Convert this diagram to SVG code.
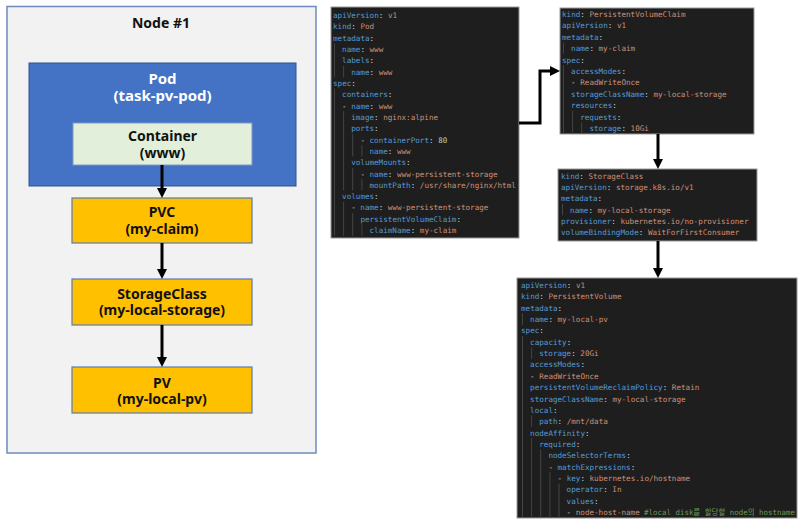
<svg xmlns="http://www.w3.org/2000/svg" width="800" height="523" viewBox="0 0 800 523">
<defs>
<marker id="ah" viewBox="0 0 10 10" refX="2" refY="5" markerWidth="10" markerHeight="10" markerUnits="userSpaceOnUse" orient="auto"><path d="M0,0 L10,5 L0,10 z" fill="#000"/></marker>
<style>
.lbl{font-family:"Noto Sans","Open Sans",sans-serif;font-weight:bold;text-anchor:middle;font-size:14px;fill:#111}
.code{font-family:"DejaVu Sans Mono","Noto Sans CJK KR",monospace;font-size:7.6px;fill:#d4d4d4}
.k{fill:#569cd6}.v{fill:#ce9178}.n{fill:#b5cea8}.c{fill:#6a9955}
.blk{fill:#1e1e1e;stroke:#9a9a9a;stroke-width:1}
.g{stroke:#444;stroke-width:1}
.y{fill:#ffc000;stroke:#5a7bb0;stroke-width:1.2}
.conn{fill:none;stroke:#000;stroke-width:3;marker-end:url(#ah)}
</style>
</defs>
<rect width="800" height="523" fill="#fff"/>

<g id="node1">
<rect x="7" y="6.5" width="309" height="446.5" fill="#f2f2f2" stroke="#6f8bbd" stroke-width="1.5"/>
<text class="lbl" x="161" y="28" font-size="16">Node #1</text>
</g>
<g id="pod">
<rect x="29" y="63" width="267" height="123" fill="#4472c4" stroke="#2f528f" stroke-width="1"/>
<text class="lbl" x="162.5" y="84" font-size="15" fill="#fff" style="fill:#fff;font-size:15px">Pod</text>
<text class="lbl" x="162.5" y="101" style="fill:#fff;font-size:15px">(task-pv-pod)</text>
</g>
<g id="container">
<rect x="73" y="123" width="179" height="42" fill="#e2efda" stroke="#7f98c6" stroke-width="1"/>
<text class="lbl" x="162.5" y="141">Container</text>
<text class="lbl" x="162.5" y="158">(www)</text>
</g>
<g id="pvc">
<rect class="y" x="72" y="198" width="180" height="45"/>
<text class="lbl" x="162" y="217">PVC</text>
<text class="lbl" x="162" y="234">(my-claim)</text>
</g>
<g id="storageclass">
<rect class="y" x="72" y="279" width="180" height="46"/>
<text class="lbl" x="162" y="299">StorageClass</text>
<text class="lbl" x="162" y="315">(my-local-storage)</text>
</g>
<g id="pv">
<rect class="y" x="72" y="367" width="180" height="46"/>
<text class="lbl" x="162" y="388">PV</text>
<text class="lbl" x="162" y="404">(my-local-pv)</text>
</g>

<g id="pod-yaml">
<rect class="blk" x="331" y="7" width="188" height="231"/>
<path class="g" d="M334.5 43.3V77.3M334.5 88.5V235.8M343.6 65.9V77.3M343.6 111.2V190.5M343.6 201.7V235.8M352.7 133.8V156.5M352.7 167.8V190.5M352.7 213.1V235.8M361.9 145.1V156.5M361.9 179.1V190.5M361.9 224.4V235.8"/>
<text class="code" x="333" y="18"><tspan class="k">apiVersion</tspan>: <tspan class="v">v1</tspan></text>
<text class="code" x="333" y="29.3"><tspan class="k">kind</tspan>: <tspan class="v">Pod</tspan></text>
<text class="code" x="333" y="40.6"><tspan class="k">metadata</tspan>:</text>
<text class="code" x="342.1" y="52"><tspan class="k">name</tspan>: <tspan class="v">www</tspan></text>
<text class="code" x="342.1" y="63.3"><tspan class="k">labels</tspan>:</text>
<text class="code" x="351.2" y="74.6"><tspan class="k">name</tspan>: <tspan class="v">www</tspan></text>
<text class="code" x="333" y="85.9"><tspan class="k">spec</tspan>:</text>
<text class="code" x="342.1" y="97.2"><tspan class="k">containers</tspan>:</text>
<text class="code" x="342.1" y="108.6">- <tspan class="k">name</tspan>: <tspan class="v">www</tspan></text>
<text class="code" x="351.2" y="119.9"><tspan class="k">image</tspan>: <tspan class="v">nginx:alpine</tspan></text>
<text class="code" x="351.2" y="131.2"><tspan class="k">ports</tspan>:</text>
<text class="code" x="360.4" y="142.5">- <tspan class="k">containerPort</tspan>: <tspan class="n">80</tspan></text>
<text class="code" x="369.5" y="153.8"><tspan class="k">name</tspan>: <tspan class="v">www</tspan></text>
<text class="code" x="351.2" y="165.2"><tspan class="k">volumeMounts</tspan>:</text>
<text class="code" x="360.4" y="176.5">- <tspan class="k">name</tspan>: <tspan class="v">www-persistent-storage</tspan></text>
<text class="code" x="369.5" y="187.8"><tspan class="k">mountPath</tspan>: <tspan class="v">/usr/share/nginx/html</tspan></text>
<text class="code" x="342.1" y="199.1"><tspan class="k">volumes</tspan>:</text>
<text class="code" x="351.2" y="210.4">- <tspan class="k">name</tspan>: <tspan class="v">www-persistent-storage</tspan></text>
<text class="code" x="360.4" y="221.8"><tspan class="k">persistentVolumeClaim</tspan>:</text>
<text class="code" x="369.5" y="233.1"><tspan class="k">claimName</tspan>: <tspan class="v">my-claim</tspan></text>
</g>

<g id="pvc-yaml">
<rect class="blk" x="560" y="8" width="194" height="126"/>
<path class="g" d="M563.5 42.5V53.9M563.5 65.3V133.5M572.6 110.9V133.5M581.7 122.3V133.5"/>
<text class="code" x="562" y="17"><tspan class="k">kind</tspan>: <tspan class="v">PersistentVolumeClaim</tspan></text>
<text class="code" x="562" y="28.4"><tspan class="k">apiVersion</tspan>: <tspan class="v">v1</tspan></text>
<text class="code" x="562" y="39.8"><tspan class="k">metadata</tspan>:</text>
<text class="code" x="571.1" y="51.2"><tspan class="k">name</tspan>: <tspan class="v">my-claim</tspan></text>
<text class="code" x="562" y="62.6"><tspan class="k">spec</tspan>:</text>
<text class="code" x="571.1" y="74"><tspan class="k">accessModes</tspan>:</text>
<text class="code" x="571.1" y="85.4">- <tspan class="v">ReadWriteOnce</tspan></text>
<text class="code" x="571.1" y="96.8"><tspan class="k">storageClassName</tspan>: <tspan class="v">my-local-storage</tspan></text>
<text class="code" x="571.1" y="108.2"><tspan class="k">resources</tspan>:</text>
<text class="code" x="580.2" y="119.6"><tspan class="k">requests</tspan>:</text>
<text class="code" x="589.4" y="131"><tspan class="k">storage</tspan>: <tspan class="v">10Gi</tspan></text>
</g>

<g id="sc-yaml">
<rect class="blk" x="558" y="169" width="199" height="72"/>
<path class="g" d="M562.5 203.9V215.3"/>
<text class="code" x="561" y="179"><tspan class="k">kind</tspan>: <tspan class="v">StorageClass</tspan></text>
<text class="code" x="561" y="190.2"><tspan class="k">apiVersion</tspan>: <tspan class="v">storage.k8s.io/v1</tspan></text>
<text class="code" x="561" y="201.4"><tspan class="k">metadata</tspan>:</text>
<text class="code" x="570.1" y="212.6"><tspan class="k">name</tspan>: <tspan class="v">my-local-storage</tspan></text>
<text class="code" x="561" y="223.8"><tspan class="k">provisioner</tspan>: <tspan class="v">kubernetes.io/no-provisioner</tspan></text>
<text class="code" x="561" y="235"><tspan class="k">volumeBindingMode</tspan>: <tspan class="v">WaitForFirstConsumer</tspan></text>
</g>

<g id="pv-yaml">
<rect class="blk" x="517" y="278" width="280" height="240"/>
<path class="g" d="M522.5 313.35V324.75M522.5 336.05V517.5M531.6 347.4V358.8M531.6 415.5V426.9M531.6 438.2V517.5M540.7 449.55V517.5M549.9 472.25V517.5M559 483.6V517.5"/>
<text class="code" x="521" y="288"><tspan class="k">apiVersion</tspan>: <tspan class="v">v1</tspan></text>
<text class="code" x="521" y="299.35"><tspan class="k">kind</tspan>: <tspan class="v">PersistentVolume</tspan></text>
<text class="code" x="521" y="310.7"><tspan class="k">metadata</tspan>:</text>
<text class="code" x="530.1" y="322.05"><tspan class="k">name</tspan>: <tspan class="v">my-local-pv</tspan></text>
<text class="code" x="521" y="333.4"><tspan class="k">spec</tspan>:</text>
<text class="code" x="530.1" y="344.75"><tspan class="k">capacity</tspan>:</text>
<text class="code" x="539.2" y="356.1"><tspan class="k">storage</tspan>: <tspan class="v">20Gi</tspan></text>
<text class="code" x="530.1" y="367.45"><tspan class="k">accessModes</tspan>:</text>
<text class="code" x="530.1" y="378.8">- <tspan class="v">ReadWriteOnce</tspan></text>
<text class="code" x="530.1" y="390.15"><tspan class="k">persistentVolumeReclaimPolicy</tspan>: <tspan class="v">Retain</tspan></text>
<text class="code" x="530.1" y="401.5"><tspan class="k">storageClassName</tspan>: <tspan class="v">my-local-storage</tspan></text>
<text class="code" x="530.1" y="412.85"><tspan class="k">local</tspan>:</text>
<text class="code" x="539.2" y="424.2"><tspan class="k">path</tspan>: <tspan class="v">/mnt/data</tspan></text>
<text class="code" x="530.1" y="435.55"><tspan class="k">nodeAffinity</tspan>:</text>
<text class="code" x="539.2" y="446.9"><tspan class="k">required</tspan>:</text>
<text class="code" x="548.4" y="458.25"><tspan class="k">nodeSelectorTerms</tspan>:</text>
<text class="code" x="548.4" y="469.6">- <tspan class="k">matchExpressions</tspan>:</text>
<text class="code" x="557.5" y="480.95">- <tspan class="k">key</tspan>: <tspan class="v">kubernetes.io/hostname</tspan></text>
<text class="code" x="566.6" y="492.3"><tspan class="k">operator</tspan>: <tspan class="v">In</tspan></text>
<text class="code" x="566.6" y="503.65"><tspan class="k">values</tspan>:</text>
<text class="code" x="566.6" y="515">- <tspan class="v">node-host-name</tspan></text>
<text class="code c" x="644" y="515" textLength="151" lengthAdjust="spacingAndGlyphs">#local disk를 할당할 node의 hostname</text>
</g>

<g id="connectors">
<path class="conn" d="M162 165V190"/>
<path class="conn" d="M162 243V271"/>
<path class="conn" d="M162 325V359"/>
<path class="conn" d="M519 123H540V71H552"/>
<path class="conn" d="M658 134V161"/>
<path class="conn" d="M658 241V270"/>
</g>
</svg>
